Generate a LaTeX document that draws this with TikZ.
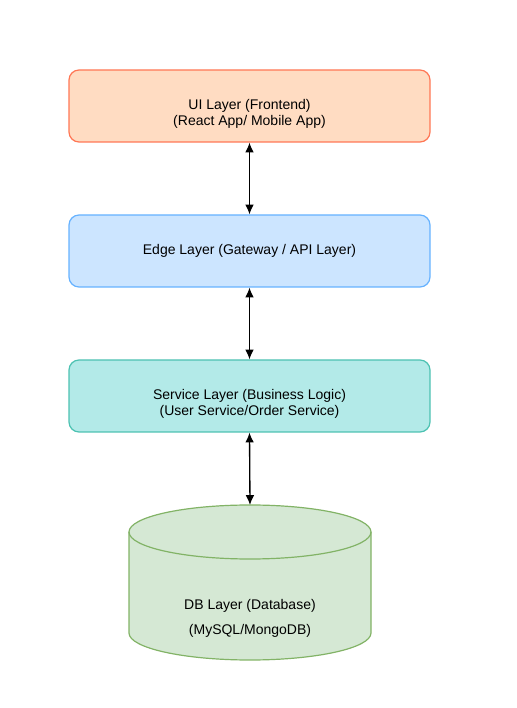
\documentclass[tikz,border=0pt]{standalone}
\usepackage{fontspec}
\setmainfont{Liberation Sans}
\usepackage{tikz}
\usetikzlibrary{arrows.meta}

\definecolor{uifill}{HTML}{FFDCC2}
\definecolor{uiline}{HTML}{FF7755}
\definecolor{edgefill}{HTML}{CCE5FF}
\definecolor{edgeline}{HTML}{66B2FF}
\definecolor{svcfill}{HTML}{B3EAE8}
\definecolor{svcline}{HTML}{4DC2B2}
\definecolor{dbfill}{HTML}{D5E8D4}
\definecolor{dbline}{HTML}{82B366}

\tikzset{
	layer/.style={draw, rounded corners=7.5pt, line width=0.9pt, minimum width=361*0.75pt, minimum height=72*0.75pt, align=center, font=\fontsize{10.5}{12}\selectfont},
	layertext/.style={align=center, font=\fontsize{10.5}{12}\selectfont, yshift=-6pt},
	link/.style={{Latex[length=2.6mm,width=2.3mm]}-{Latex[length=2.6mm,width=2.3mm]}, line width=1pt}
}

\begin{document}
\begin{tikzpicture}[x=0.75pt,y=0.75pt]
	\useasboundingbox (0,0) rectangle (517,708);

	%Layer boxes
	\node [layer, fill=uifill, draw=uiline, label={[layertext]center:UI Layer (Frontend)\\(React App/ Mobile App)}] (ui) at (249.5,602) {};
	\node [layer, fill=edgefill, draw=edgeline] (edge) at (249.5,457) {Edge Layer (Gateway / API Layer)};
	\node [layer, fill=svcfill, draw=svcline, label={[layertext]center:Service Layer (Business Logic)\\(User Service/Order Service)}] (svc) at (249.5,312) {};

	%Database cylinder
	\fill [dbfill] (129,176) -- (129,75) arc [start angle=180, end angle=360, x radius=121, y radius=27] -- (371,176) arc [start angle=0, end angle=180, x radius=121, y radius=27] -- cycle;
	\draw [dbline, line width=0.9pt] (129,176) -- (129,75) arc [start angle=180, end angle=360, x radius=121, y radius=27] -- (371,176);
	\draw [dbline, line width=0.9pt] (250,176) ellipse [x radius=121, y radius=27];
	\coordinate (dbtop) at (250,203);
	\node [align=center, font=\fontsize{10.5}{18.75}\selectfont] (db) at (250,90) {DB Layer (Database)\\(MySQL/MongoDB)};

	%Links between layers
	\draw [link] (ui.south) -- (edge.north);
	\draw [link] (edge.south) -- (svc.north);
	\draw [link] (svc.south) -- (dbtop);
\end{tikzpicture}
\end{document}
